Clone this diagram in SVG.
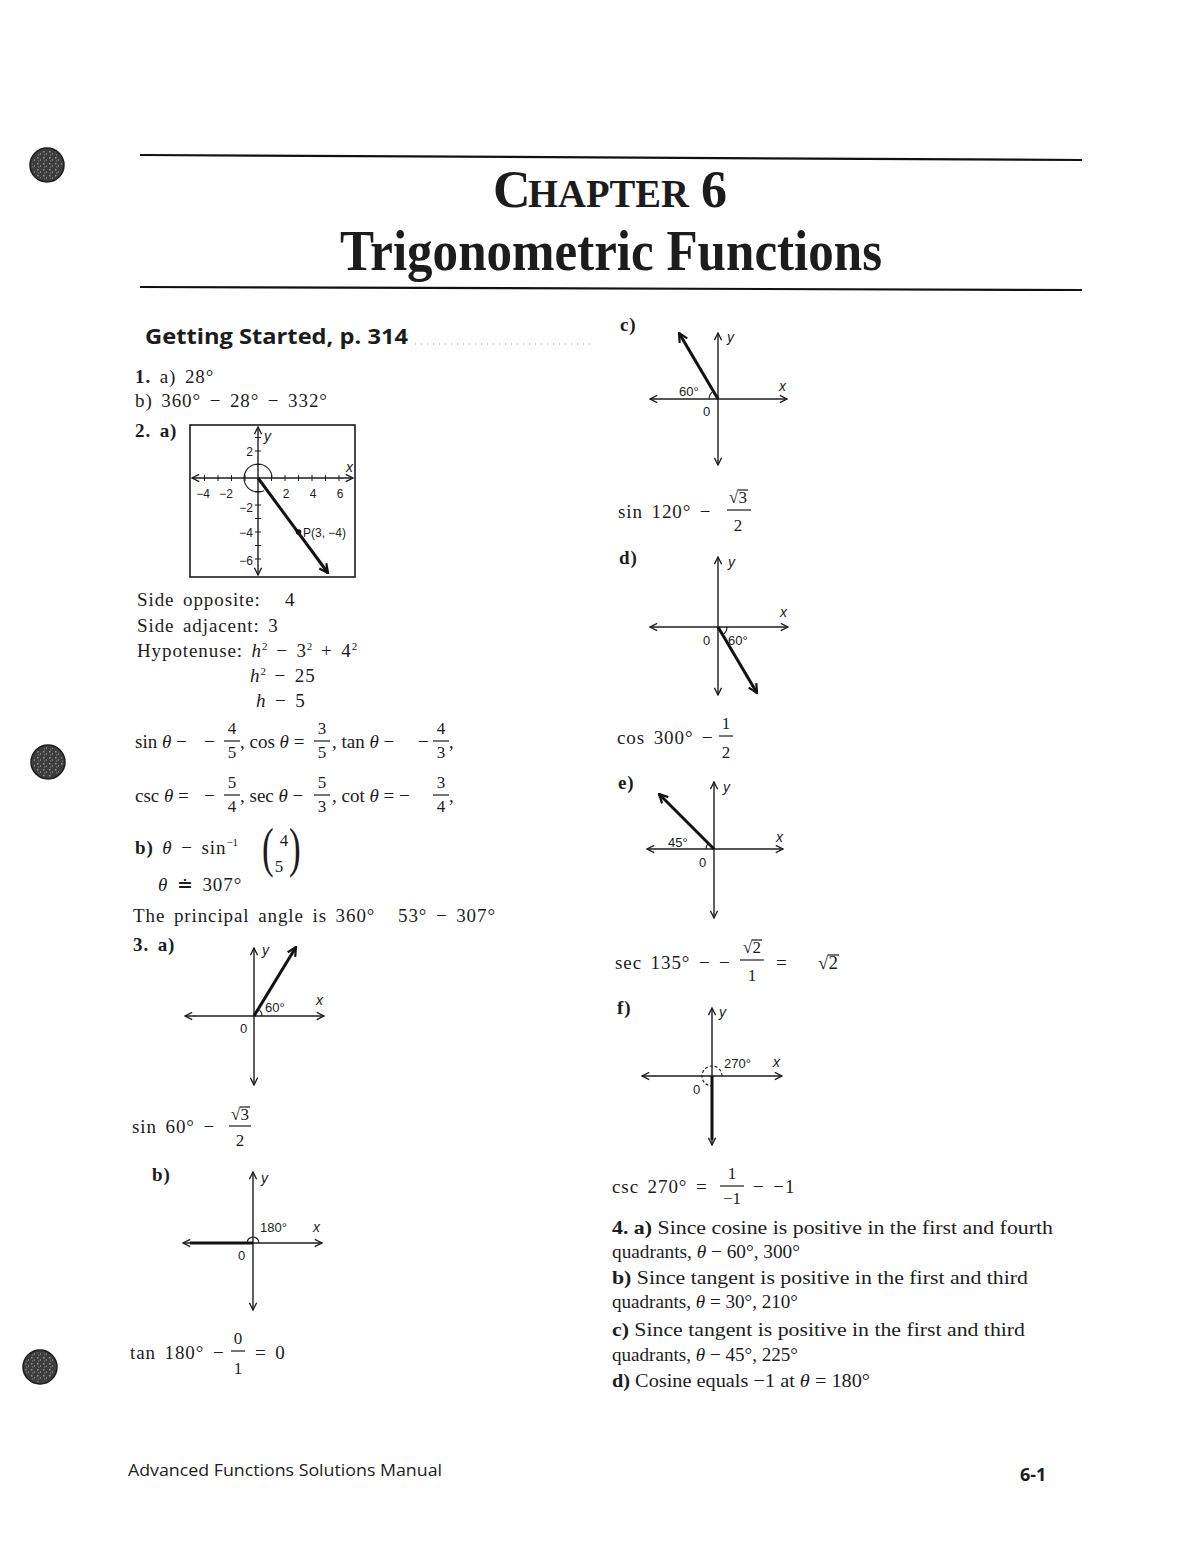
<svg xmlns="http://www.w3.org/2000/svg" width="1200" height="1553" viewBox="0 0 1200 1553">
<style>
text{font-family:"Liberation Serif","Times New Roman",serif;fill:#1c1c1c;}
.b{font-size:19px;letter-spacing:0.9px;word-spacing:3px;}
.m{font-size:19px;}
.bd{font-weight:bold;}
.it{font-style:italic;}
.fr{font-size:17px;text-anchor:middle;}
.sup{font-size:11px;letter-spacing:0;}
.lab{font-family:"Liberation Sans",Arial,sans-serif;font-size:13px;}
.tk{font-family:"Liberation Sans",Arial,sans-serif;font-size:12px;}
.ax{font-family:"Liberation Sans",Arial,sans-serif;font-size:14px;font-style:italic;}
.gs{font-family:"Open Sans","Liberation Sans",Arial,sans-serif;font-weight:bold;font-size:22px;}
.ft{font-family:"Open Sans","Liberation Sans",Arial,sans-serif;font-size:17px;}
.ftb{font-family:"Open Sans","Liberation Sans",Arial,sans-serif;font-size:18px;font-weight:bold;}
.axis{stroke:#1c1c1c;stroke-width:1.4;fill:none;marker-start:url(#ah);marker-end:url(#ah);}
.arm{stroke:#111;stroke-width:3;fill:none;marker-end:url(#ah2);}
.thick{stroke:#111;stroke-width:3;fill:none;}
.bar{stroke:#1c1c1c;stroke-width:1.2;}
.arc{stroke:#1c1c1c;stroke-width:1.1;fill:none;}
.rule{stroke:#111;stroke-width:2.2;}
.hole{fill:#3d3d3d;stroke:#1e1e1e;stroke-width:1.5;}
</style>
<defs>
<marker id="ah" viewBox="0 0 10 10" refX="9" refY="5" markerWidth="9" markerHeight="9" markerUnits="userSpaceOnUse" orient="auto-start-reverse"><path d="M1,1 L9,5 L1,9" fill="none" stroke="#1c1c1c" stroke-width="1.5"/></marker>
<marker id="ah2" viewBox="0 0 10 10" refX="9" refY="5" markerWidth="11" markerHeight="11" markerUnits="userSpaceOnUse" orient="auto"><path d="M1,1 L9,5 L1,9" fill="none" stroke="#111" stroke-width="2"/></marker>
<pattern id="speck" width="6" height="6" patternUnits="userSpaceOnUse">
<rect x="1" y="1" width="1.5" height="1.5" fill="#bbb"/>
<rect x="4" y="3" width="1" height="2" fill="#999"/>
<rect x="2" y="4.5" width="1.2" height="1" fill="#aaa"/>
</pattern>
</defs>
<rect width="1200" height="1553" fill="#ffffff"/>

<g id="holes">
<circle class="hole" cx="47" cy="165" r="17"/>
<circle cx="47" cy="165" r="15" fill="url(#speck)" opacity="0.7"/>
<circle class="hole" cx="48" cy="762" r="17"/>
<circle cx="48" cy="762" r="15" fill="url(#speck)" opacity="0.7"/>
<circle class="hole" cx="40" cy="1367" r="17"/>
<circle cx="40" cy="1367" r="15" fill="url(#speck)" opacity="0.7"/>
</g>

<g id="header">
<line class="rule" x1="140" y1="155" x2="1082" y2="160"/>
<text x="493" y="207" font-weight="bold" font-size="52">C</text>
<text x="528" y="207" font-weight="bold" font-size="40" textLength="161" lengthAdjust="spacingAndGlyphs">HAPTER</text>
<text x="701" y="207" font-weight="bold" font-size="52">6</text>
<text x="611" y="270" text-anchor="middle" font-weight="bold" font-size="58" textLength="542" lengthAdjust="spacingAndGlyphs">Trigonometric Functions</text>
<line class="rule" x1="140" y1="287" x2="1082" y2="290"/>
</g>

<g id="getting-started">
<text class="gs" x="145" y="344" textLength="263" lengthAdjust="spacingAndGlyphs">Getting Started, p. 314</text>
<line x1="415" y1="344" x2="590" y2="344" stroke="#999" stroke-width="1" stroke-dasharray="1,5"/>
</g>

<g id="q1">
<text class="b" x="135" y="383"><tspan class="bd">1.</tspan> a) 28°</text>
<text class="b" x="135" y="407">b) 360° − 28° − 332°</text>
</g>

<g id="q2a">
<text class="b bd" x="135" y="437">2. a)</text>
<rect x="190" y="425" width="165" height="152" fill="none" stroke="#1c1c1c" stroke-width="1.6"/>
<line class="axis" x1="192" y1="478" x2="353" y2="478"/>
<line class="axis" x1="258" y1="575" x2="258" y2="427"/>
<path d="M204.5,475v6 M218,475v6 M231.5,475v6 M245,475v6 M271.5,475v6 M285,475v6 M298.5,475v6 M312,475v6 M325.5,475v6 M339,475v6 M255,437.5h6 M255,451h6 M255,464.5h6 M255,491.5h6 M255,505h6 M255,518.5h6 M255,532h6 M255,545.5h6 M255,559h6" stroke="#1c1c1c" stroke-width="1"/>
<text class="tk" x="203" y="498" text-anchor="middle">−4</text>
<text class="tk" x="226" y="498" text-anchor="middle">−2</text>
<text class="tk" x="286" y="498" text-anchor="middle">2</text>
<text class="tk" x="313" y="498" text-anchor="middle">4</text>
<text class="tk" x="340" y="498" text-anchor="middle">6</text>
<text class="tk" x="253" y="456" text-anchor="end">2</text>
<text class="tk" x="253" y="512" text-anchor="end">−2</text>
<text class="tk" x="253" y="537" text-anchor="end">−4</text>
<text class="tk" x="253" y="565" text-anchor="end">−6</text>
<text class="ax" x="264" y="441">y</text>
<text class="ax" x="346" y="472">x</text>
<path class="arc" d="M272,478 A14,14 0 1 0 264,490.7"/>
<line class="arm" x1="258" y1="478" x2="328" y2="573" stroke-width="2.6"/>
<circle cx="298.5" cy="532" r="2.8" fill="#111"/>
<text class="tk" x="303" y="537">P(3, −4)</text>
</g>

<g id="q2-work">
<text class="b" x="137" y="606">Side opposite:</text>
<text class="b" x="285" y="606">4</text>
<text class="b" x="137" y="632">Side adjacent: 3</text>
<text class="b" x="137" y="657">Hypotenuse: <tspan class="it">h</tspan><tspan class="sup" dy="-7">2</tspan><tspan dy="7"> − 3</tspan><tspan class="sup" dy="-7">2</tspan><tspan dy="7"> + 4</tspan><tspan class="sup" dy="-7">2</tspan></text>
<text class="b" x="250" y="682"><tspan class="it">h</tspan><tspan class="sup" dy="-7">2</tspan><tspan dy="7"> − 25</tspan></text>
<text class="b" x="256" y="707"><tspan class="it">h</tspan> − 5</text>

<text class="m" x="135" y="748">sin <tspan class="it">θ</tspan> −</text>
<text class="m" x="204" y="748">−</text>
<text class="fr" x="232" y="734">4</text><line class="bar" x1="224" y1="741" x2="240" y2="741"/><text class="fr" x="232" y="758">5</text>
<text class="m" x="240" y="748">, cos <tspan class="it">θ</tspan> =</text>
<text class="fr" x="322" y="734">3</text><line class="bar" x1="314" y1="741" x2="330" y2="741"/><text class="fr" x="322" y="758">5</text>
<text class="m" x="332" y="748">, tan <tspan class="it">θ</tspan> −</text>
<text class="m" x="418" y="748">−</text>
<text class="fr" x="441" y="734">4</text><line class="bar" x1="433" y1="741" x2="449" y2="741"/><text class="fr" x="441" y="758">3</text>
<text class="m" x="449" y="748">,</text>

<text class="m" x="135" y="802">csc <tspan class="it">θ</tspan> =</text>
<text class="m" x="204" y="802">−</text>
<text class="fr" x="232" y="788">5</text><line class="bar" x1="224" y1="795" x2="240" y2="795"/><text class="fr" x="232" y="812">4</text>
<text class="m" x="240" y="802">, sec <tspan class="it">θ</tspan> −</text>
<text class="fr" x="322" y="788">5</text><line class="bar" x1="314" y1="795" x2="330" y2="795"/><text class="fr" x="322" y="812">3</text>
<text class="m" x="332" y="802">, cot <tspan class="it">θ</tspan> =  −</text>
<text class="fr" x="441" y="788">3</text><line class="bar" x1="433" y1="795" x2="449" y2="795"/><text class="fr" x="441" y="812">4</text>
<text class="m" x="449" y="802">,</text>

<text class="b" x="135" y="854"><tspan class="bd">b)</tspan> <tspan class="it">θ</tspan> − sin<tspan class="sup" dy="-8">−1</tspan></text>
<text x="0" y="0" font-size="54" transform="translate(262,866) scale(0.65,1)">(</text>
<text class="fr" x="284" y="846">4</text>
<text class="fr" x="279" y="872">5</text>
<text x="0" y="0" font-size="54" transform="translate(289,866) scale(0.65,1)">)</text>
<text class="b" x="158" y="891"><tspan class="it">θ</tspan> ≐ 307°</text>
<text class="b" x="133" y="922">The principal angle is 360°</text>
<text class="b" x="398" y="922">53° − 307°</text>
</g>

<g id="q3a">
<text class="b bd" x="133" y="951">3. a)</text>
<line class="axis" x1="185" y1="1016" x2="324" y2="1016"/>
<line class="axis" x1="254" y1="1085" x2="254" y2="948"/>
<line class="arm" x1="254" y1="1016" x2="296" y2="947"/>
<path class="arc" d="M262,1016 A8,8 0 0 0 258.2,1009.1"/>
<text class="lab" x="265" y="1012">60°</text>
<text class="ax" x="316" y="1005">x</text>
<text class="ax" x="262" y="955">y</text>
<text class="lab" x="240" y="1033">0</text>
<text class="b" x="132" y="1133">sin 60° −</text>
<text class="fr" x="240" y="1120">√3</text><line class="bar" x1="240" y1="1107" x2="250" y2="1107"/>
<line class="bar" x1="229" y1="1126" x2="251" y2="1126"/>
<text class="fr" x="240" y="1146">2</text>
</g>

<g id="q3b">
<text class="b bd" x="152" y="1181">b)</text>
<line class="axis" x1="183" y1="1243" x2="322" y2="1243"/>
<line class="axis" x1="253" y1="1310" x2="253" y2="1172"/>
<line class="thick" x1="253" y1="1243" x2="190" y2="1243"/>
<path class="arc" d="M259,1243 A6,6 0 0 0 247,1243"/>
<text class="lab" x="260" y="1232">180°</text>
<text class="ax" x="313" y="1232">x</text>
<text class="ax" x="261" y="1183">y</text>
<text class="lab" x="238" y="1260">0</text>
<text class="b" x="130" y="1359">tan 180° −</text>
<text class="fr" x="238" y="1344">0</text><line class="bar" x1="231" y1="1351" x2="245" y2="1351"/><text class="fr" x="238" y="1374">1</text>
<text class="b" x="255" y="1359">= 0</text>
</g>

<g id="q3c">
<text class="b bd" x="620" y="331">c)</text>
<line class="axis" x1="650" y1="399" x2="787" y2="399"/>
<line class="axis" x1="718" y1="465" x2="718" y2="333"/>
<line class="arm" x1="718" y1="399" x2="679" y2="333"/>
<path class="arc" d="M713.5,391.2 A9,9 0 0 0 709,399"/>
<text class="lab" x="679" y="396">60°</text>
<text class="lab" x="703" y="416">0</text>
<text class="ax" x="779" y="391">x</text>
<text class="ax" x="727" y="342">y</text>
<text class="b" x="618" y="518">sin 120° −</text>
<text class="fr" x="738" y="503">√3</text><line class="bar" x1="738" y1="490" x2="748" y2="490"/>
<line class="bar" x1="727" y1="510" x2="751" y2="510"/>
<text class="fr" x="738" y="531">2</text>
</g>

<g id="q3d">
<text class="b bd" x="619" y="564">d)</text>
<line class="axis" x1="650" y1="627" x2="788" y2="627"/>
<line class="axis" x1="718" y1="695" x2="718" y2="557"/>
<line class="arm" x1="718" y1="627" x2="757" y2="693"/>
<path class="arc" d="M727,627 A9,9 0 0 1 722.5,634.8"/>
<text class="lab" x="703" y="645">0</text>
<text class="lab" x="728" y="645">60°</text>
<text class="ax" x="780" y="617">x</text>
<text class="ax" x="728" y="567">y</text>
<text class="b" x="617" y="744">cos 300° −</text>
<text class="fr" x="726" y="729">1</text><line class="bar" x1="719" y1="736" x2="733" y2="736"/><text class="fr" x="726" y="758">2</text>
</g>

<g id="q3e">
<text class="b bd" x="618" y="789">e)</text>
<line class="axis" x1="647" y1="849" x2="783" y2="849"/>
<line class="axis" x1="714" y1="918" x2="714" y2="782"/>
<line class="arm" x1="714" y1="849" x2="659" y2="794"/>
<path class="arc" d="M708.3,843.3 A8,8 0 0 0 706,849"/>
<text class="lab" x="668" y="847">45°</text>
<text class="lab" x="699" y="867">0</text>
<text class="ax" x="776" y="842">x</text>
<text class="ax" x="723" y="792">y</text>
<text class="b" x="615" y="969" letter-spacing="0.5">sec 135° −</text>
<text class="m" x="719" y="969">−</text>
<text class="fr" x="752" y="953">√2</text><line class="bar" x1="752" y1="940" x2="762" y2="940"/>
<line class="bar" x1="740" y1="960" x2="764" y2="960"/>
<text class="fr" x="752" y="981">1</text>
<text class="m" x="776" y="969">=</text>
<text class="m" x="818" y="969">√2</text><line class="bar" x1="828" y1="955" x2="839" y2="955"/>
</g>

<g id="q3f">
<text class="b bd" x="617" y="1014">f)</text>
<line class="axis" x1="642" y1="1076" x2="782" y2="1076"/>
<line class="axis" x1="712" y1="1145" x2="712" y2="1008"/>
<line class="thick" x1="712" y1="1076" x2="712" y2="1140"/>
<path class="arc" d="M722,1076 A10,10 0 1 0 712,1086" stroke-dasharray="3,2"/>
<text class="lab" x="724" y="1068">270°</text>
<text class="ax" x="773" y="1067">x</text>
<text class="ax" x="719" y="1017">y</text>
<text class="lab" x="693" y="1094">0</text>
<text class="b" x="612" y="1193">csc 270° =</text>
<text class="fr" x="732" y="1179">1</text><line class="bar" x1="720" y1="1186" x2="744" y2="1186"/><text class="fr" x="732" y="1204">−1</text>
<text class="b" x="753" y="1193">− −1</text>
</g>

<g id="q4">
<text class="m" x="612" y="1234" textLength="441" lengthAdjust="spacingAndGlyphs"><tspan class="bd">4. a)</tspan> Since cosine is positive in the first and fourth</text>
<text class="m" x="612" y="1258" textLength="188" lengthAdjust="spacingAndGlyphs">quadrants, <tspan class="it">θ</tspan> − 60°, 300°</text>
<text class="m" x="612" y="1284" textLength="416" lengthAdjust="spacingAndGlyphs"><tspan class="bd">b)</tspan> Since tangent is positive in the first and third</text>
<text class="m" x="612" y="1308" textLength="186" lengthAdjust="spacingAndGlyphs">quadrants, <tspan class="it">θ</tspan> = 30°, 210°</text>
<text class="m" x="612" y="1336" textLength="413" lengthAdjust="spacingAndGlyphs"><tspan class="bd">c)</tspan> Since tangent is positive in the first and third</text>
<text class="m" x="612" y="1361" textLength="186" lengthAdjust="spacingAndGlyphs">quadrants, <tspan class="it">θ</tspan> − 45°, 225°</text>
<text class="m" x="612" y="1387" textLength="258" lengthAdjust="spacingAndGlyphs"><tspan class="bd">d)</tspan> Cosine equals −1 at <tspan class="it">θ</tspan> = 180°</text>
</g>

<g id="footer">
<text class="ft" x="128" y="1476" textLength="314" lengthAdjust="spacingAndGlyphs">Advanced Functions Solutions Manual</text>
<text class="ftb" x="1020" y="1481">6-1</text>
</g>
</svg>
